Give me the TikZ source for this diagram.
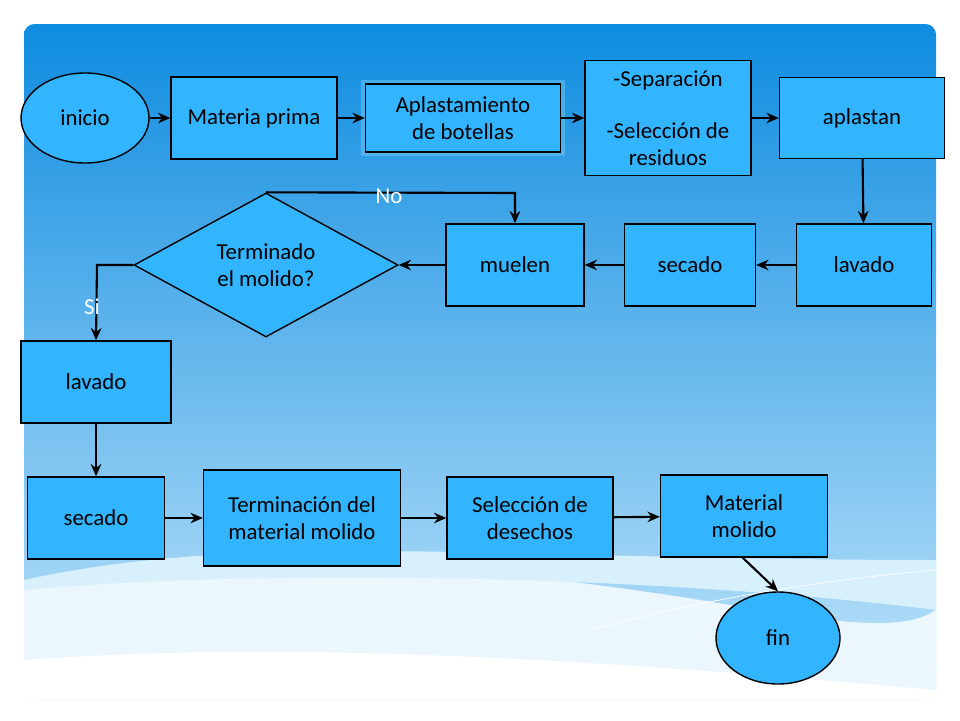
\documentclass[tikz,border=0pt]{standalone}
\usepackage{fontspec}
\setmainfont{Carlito}
\usetikzlibrary{shapes.geometric,arrows.meta,calc}
\definecolor{boxc}{HTML}{33B4FF}
\definecolor{bgtop}{HTML}{0E8CE0}
\definecolor{bgbot}{HTML}{BFE4FA}
\begin{document}
\begin{tikzpicture}[x=0.02cm,y=-0.02cm,
  box/.style={draw=black,thick,fill=boxc,align=center,font=\fontsize{13}{15.5}\selectfont,inner sep=0pt},
  ell/.style={box,ellipse},
  arr/.style={-{Stealth[length=7pt,width=6pt]},very thick}]
\useasboundingbox (0,0) rectangle (960,720);
\fill[white] (0,0) rectangle (960,720);
\shade[top color=bgtop,bottom color=bgbot,rounded corners=6pt] (24,24) rectangle (936,700);
\fill[white!70!bgbot] (24,590) .. controls (200,545) and (450,560) .. (700,600) .. controls (820,620) and (900,635) .. (936,610) -- (936,700) -- (24,700) -- cycle;
\fill[white!40!bgbot] (24,580) .. controls (250,530) and (500,560) .. (936,560) -- (936,610) .. controls (700,580) and (300,565) .. (24,590) -- cycle;
\fill[white] (24,660) .. controls (300,640) and (600,660) .. (936,690) -- (936,700) -- (24,700) -- cycle;
\draw[white,thin] (590,630) .. controls (700,600) and (820,580) .. (936,570);
\node[ell,minimum width=128*0.02cm,minimum height=90*0.02cm] (ini) at (85,118) {inicio};
\node[box,minimum width=166*0.02cm,minimum height=82*0.02cm] (mp) at (254,118) {Materia prima};
\node[box,minimum width=195*0.02cm,minimum height=68*0.02cm,
  preaction={draw=cyan!50!white,line width=5pt,opacity=0.4}] (apl) at (463,118) {Aplastamiento\\de botellas};
\node[box,minimum width=166*0.02cm,minimum height=115*0.02cm] (sep) at (668,118) {-Separación\\[14pt]-Selección de\\residuos};
\node[box,minimum width=165*0.02cm,minimum height=81*0.02cm] (apn) at (862,118) {aplastan};
\node[box,minimum width=135*0.02cm,minimum height=82*0.02cm] (lav) at (864,265) {lavado};
\node[box,minimum width=131*0.02cm,minimum height=82*0.02cm] (sec) at (690,265) {secado};
\node[box,minimum width=138*0.02cm,minimum height=82*0.02cm] (mue) at (515,265) {muelen};
\node[box,diamond,aspect=1.83,minimum width=264*0.02cm,minimum height=144*0.02cm] (dia) at (266,265) {Terminado\\el molido?};
\node[box,minimum width=150*0.02cm,minimum height=82*0.02cm] (lav2) at (96,382) {lavado};
\node[box,minimum width=137*0.02cm,minimum height=82*0.02cm] (sec2) at (96,518) {secado};
\node[box,minimum width=197*0.02cm,minimum height=96*0.02cm] (ter) at (302,518) {Terminación del\\material molido};
\node[box,minimum width=166*0.02cm,minimum height=82*0.02cm] (sel) at (530,518) {Selección de\\desechos};
\node[box,minimum width=167*0.02cm,minimum height=82*0.02cm] (mat) at (744,516) {Material\\molido};
\node[ell,minimum width=124*0.02cm,minimum height=92*0.02cm] (fin) at (778,638) {fin};
\coordinate (ms) at (742,557);
\draw[arr] (ini) -- (mp);
\draw[arr] (mp) -- (apl);
\draw[arr] (apl) -- (sep);
\draw[arr] (sep.east|-apn) -- (apn);
\draw[arr] (apn) -- (lav);
\draw[arr] (lav) -- (sec);
\draw[arr] (sec) -- (mue);
\draw[arr] (mue) -- (dia.east);
\draw[arr] (dia.north) -- (515,193) -- (mue.north);
\node[white,font=\fontsize{13}{15}\selectfont] at (389,196) {No};
\draw[arr] (dia.west) -- (97,265) -- (lav2.north);
\node[white,font=\fontsize{13}{15}\selectfont] at (92,307) {Si};
\draw[arr] (lav2) -- (sec2);
\draw[arr] (sec2) -- (ter);
\draw[arr] (ter) -- (sel);
\draw[arr] (sel) -- (mat);
\draw[arr] (ms) -- (fin.north);
\end{tikzpicture}
\end{document}
